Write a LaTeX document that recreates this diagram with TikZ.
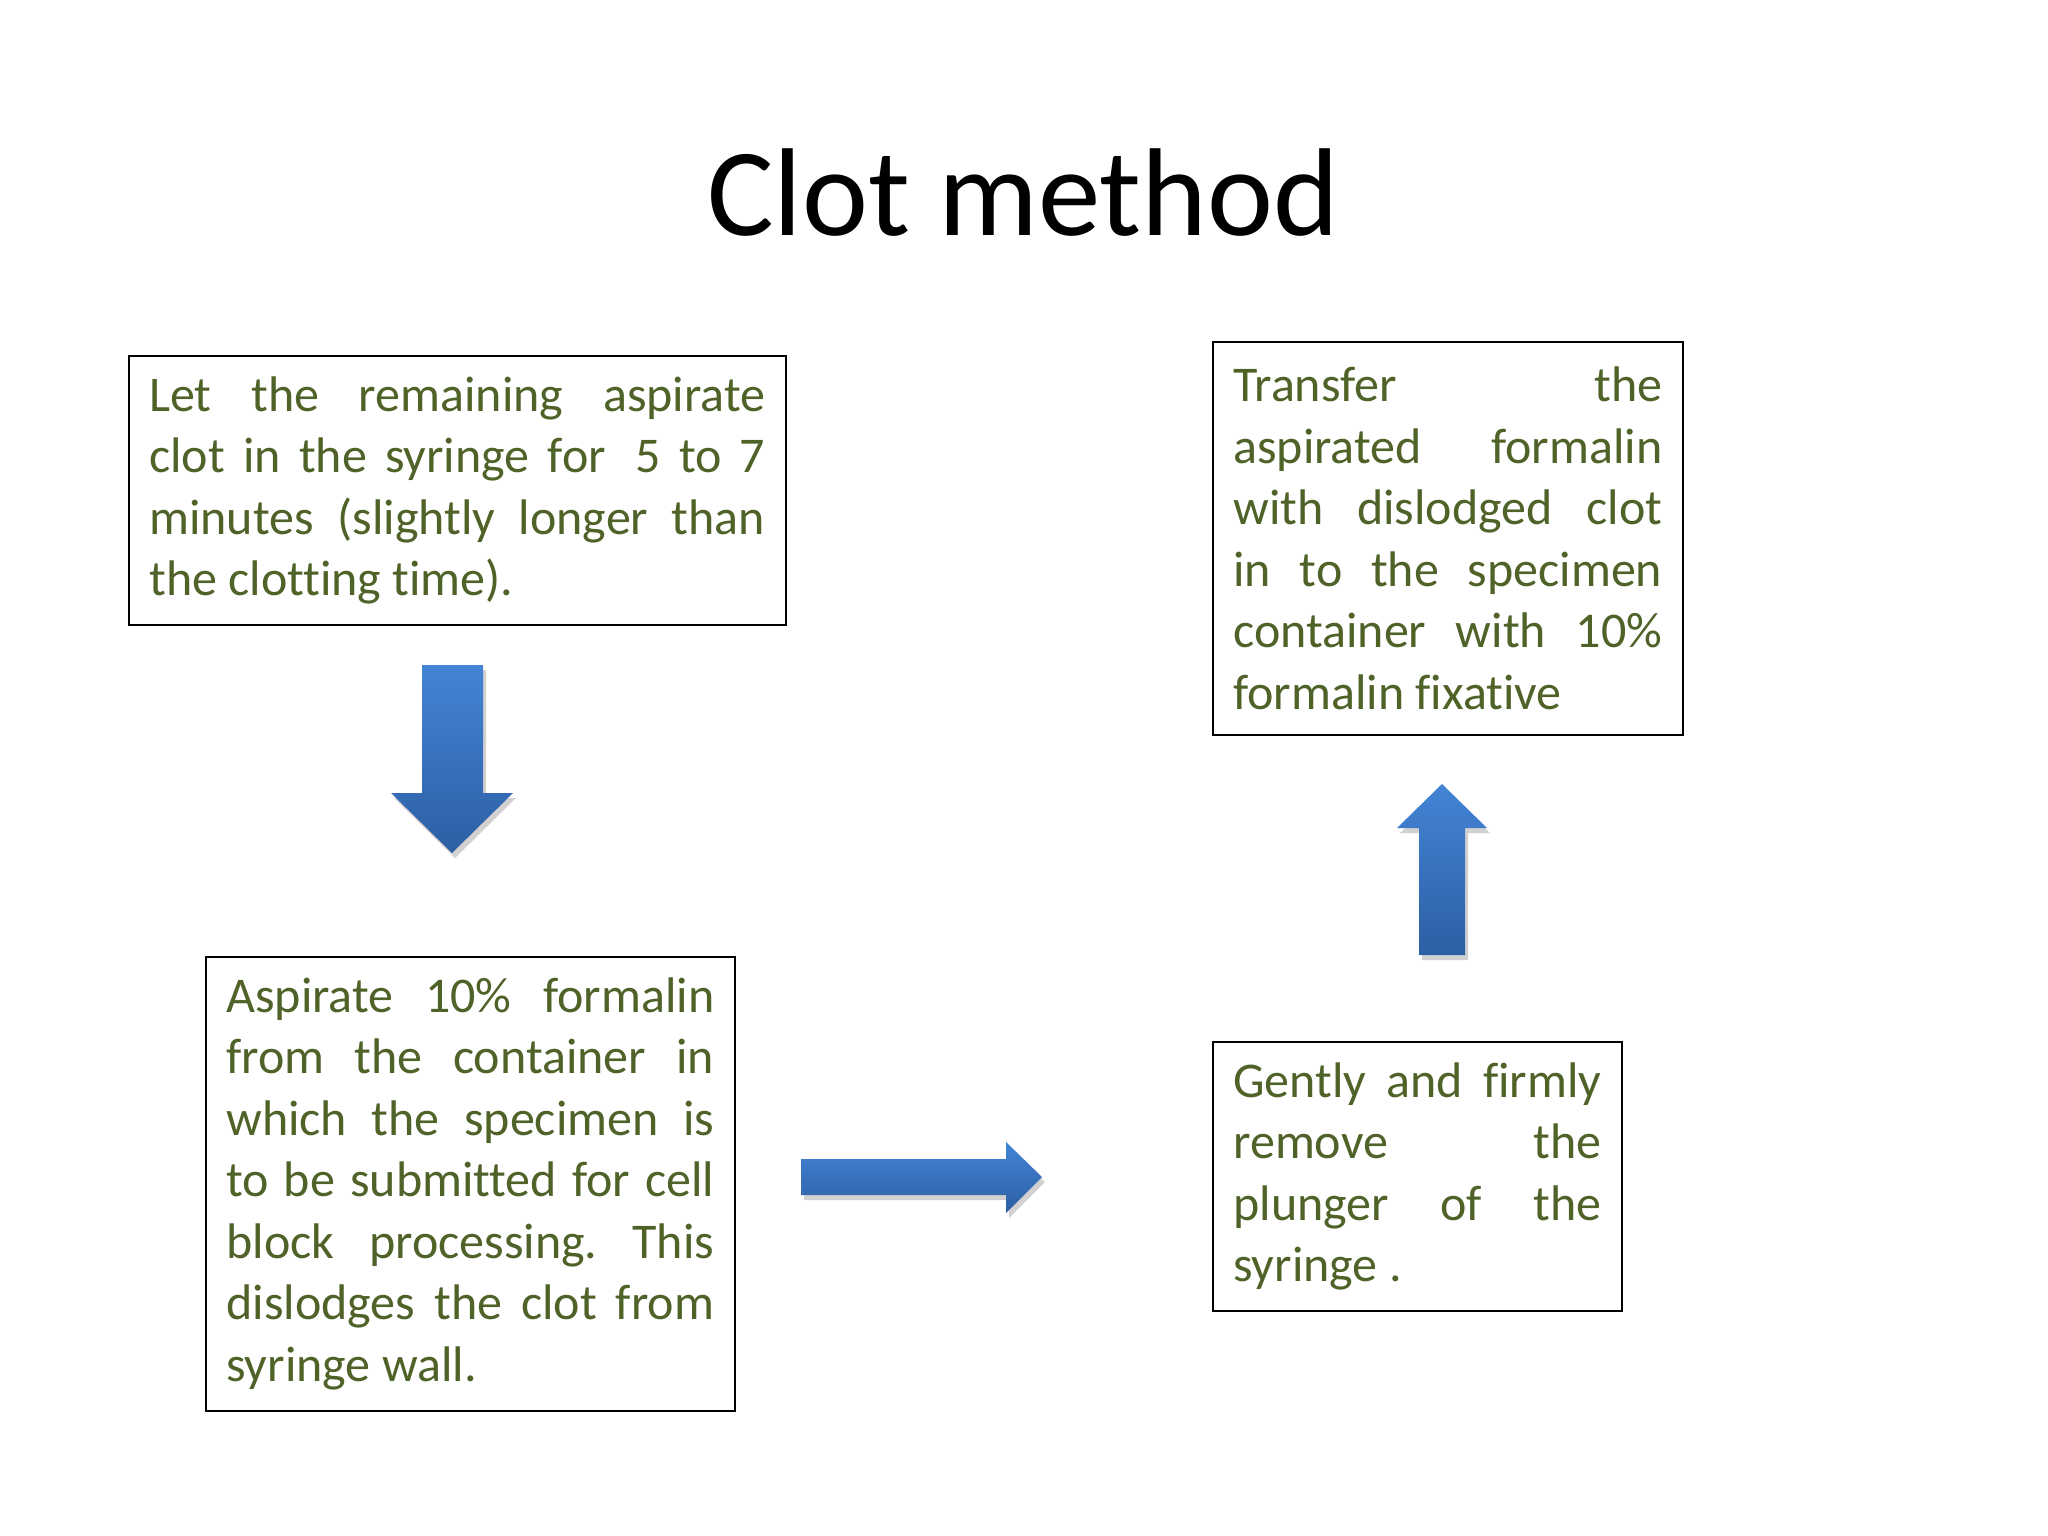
\documentclass[tikz,border=0pt]{standalone}
\usepackage{fontspec}
\setmainfont{Carlito}[Ligatures={NoCommon}]
\usetikzlibrary{shadings}
\definecolor{txtgreen}{HTML}{4F6228}
\definecolor{arrtop}{HTML}{4384D6}
\definecolor{arrbot}{HTML}{2D5FA3}
\newcommand{\jl}[2]{\leavevmode\hbox to #1{\frenchspacing\spaceskip=\fontdimen2\font plus 1fil minus 0.08em\relax #2}}
\newcommand{\lastln}[1]{\leavevmode\hbox{\frenchspacing\spaceskip=\fontdimen2\font\relax #1}}
\tikzset{
  stepbox/.style={draw=black, line width=1.6pt, fill=white, anchor=north west,
    text=txtgreen, align=left, inner xsep=20pt, inner ysep=0pt,
    font=\fontsize{50}{61.5}\selectfont\frenchspacing},
  blockarrow/.style={top color=arrtop, bottom color=arrbot, draw=none},
  arrowshadow/.style={fill=black!18, draw=none}
}
\begin{document}
\begin{tikzpicture}[x=1pt,y=-1pt]
\useasboundingbox (0,0) rectangle (2048,1536);
% title
\node[font=\fontsize{125}{150}\selectfont, anchor=base] (title) at (1023,235) {Clot method};
% boxes
\node[stepbox, text width=616pt, minimum width=657pt, minimum height=269pt] (b1) at (128,355) {%
\jl{616pt}{Let the remaining aspirate}\\
\jl{616pt}{clot in the syringe for \hspace{0.23em}5 to 7}\\
\jl{616pt}{minutes (slightly longer than}\\
\lastln{the clotting time).}};
\node[stepbox, text width=488pt, minimum width=529pt, minimum height=454pt] (b2) at (205,956) {%
\jl{488pt}{Aspirate 10\% formalin}\\
\jl{488pt}{from the container in}\\
\jl{488pt}{which the specimen is}\\
\jl{488pt}{to be submitted for cell}\\
\jl{488pt}{block processing. This}\\
\jl{488pt}{dislodges the clot from}\\
\lastln{syringe wall.}};
\node[stepbox, text width=368pt, minimum width=409pt, minimum height=269pt] (b3) at (1212,1041) {%
\jl{368pt}{Gently and firmly}\\
\jl{368pt}{remove the}\\
\jl{368pt}{plunger of the}\\
\lastln{syringe .}};
\node[stepbox, text width=429pt, minimum width=470pt, minimum height=393pt] (b4) at (1212,341) {%
\jl{429pt}{Transfer the}\\
\jl{429pt}{aspirated formalin}\\
\jl{429pt}{with dislodged clot}\\
\jl{429pt}{in to the specimen}\\
\jl{429pt}{container with 10\%}\\
\lastln{formalin fixative}};
% block arrows: shadows
\begin{scope}[shift={(3,5)}]
\fill[arrowshadow] (422,665) -- (483,665) -- (483,793) -- (513,793) -- (452,853) -- (391,793) -- (422,793) -- cycle;
\fill[arrowshadow] (801,1159) -- (1006,1159) -- (1006,1142) -- (1042,1177) -- (1006,1213) -- (1006,1195) -- (801,1195) -- cycle;
\fill[arrowshadow] (1419,955) -- (1419,828) -- (1397,828) -- (1442,784) -- (1487,828) -- (1465,828) -- (1465,955) -- cycle;
\end{scope}
% block arrows
\shade[blockarrow] (422,665) -- (483,665) -- (483,793) -- (513,793) -- (452,853) -- (391,793) -- (422,793) -- cycle;
\shade[blockarrow] (801,1159) -- (1006,1159) -- (1006,1142) -- (1042,1177) -- (1006,1213) -- (1006,1195) -- (801,1195) -- cycle;
\shade[blockarrow] (1419,955) -- (1419,828) -- (1397,828) -- (1442,784) -- (1487,828) -- (1465,828) -- (1465,955) -- cycle;
\end{tikzpicture}
\end{document}
